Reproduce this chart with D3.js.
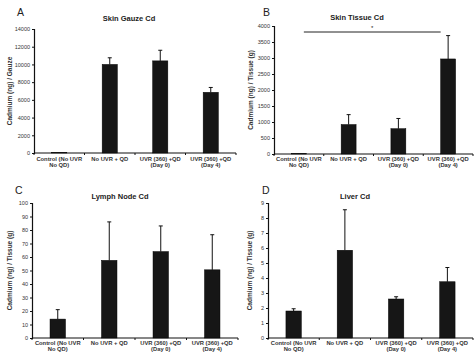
<!DOCTYPE html>
<html>
<head>
<meta charset="utf-8">
<script src="https://cdn.jsdelivr.net/npm/d3@7"></script>
<style>
  body { margin: 0; background: #fff; }
  svg { display: block; font-family: "Liberation Sans", Arial, sans-serif; }
  .tick text { fill: #333; }
</style>
</head>
<body>
<script>
const width = 474,
  height = 354;

// groups on the x axis (two lines each)
const groups = [
  ["Control (No UVR", "No QD)"],
  ["No UVR + QD", ""],
  ["UVR (360) +QD", "(Day 0)"],
  ["UVR (360) +QD", "(Day 4)"]
];

// A - skin gauze
const gaugeMean = [60, 10000, 10400, 6850];
const gaugeErr = [0, 750, 1200, 550];
const gaugeTicks = [0, 2000, 4000, 6000, 8000, 10000, 12000, 14000];

// B - skin tissue
const tissueMean = [15, 920, 790, 2970];
const tissueErr = [0, 310, 320, 730];
const tissueTicks = [0, 500, 1000, 1500, 2000, 2500, 3000, 3500, 4000];

// C - lymph node
const lymphMean = [14, 57.5, 64, 50.5];
const lymphErr = [7, 28.5, 19, 26];
const lymphTicks = [0, 10, 20, 30, 40, 50, 60, 70, 80, 90, 100];

// D - liver
const liverMean = [1.8, 5.85, 2.6, 3.75];
const liverErr = [0.15, 2.7, 0.15, 0.95];
const liverTicks = [0, 1, 2, 3, 4, 5, 6, 7, 8, 9];

const panels = [
  { letter: "A", title: "Skin Gauze Cd", ylab: "Cadmium (ng) / Gauze",
    mean: gaugeMean, err: gaugeErr, ticks: gaugeTicks,
    left: 34, right: 236, top: 29, bottom: 153, letterX: 17, letterY: 16,
    titleX: 129, titleY: 21, ylabX: 10, xlabY: 161 },
  { letter: "B", title: "Skin Tissue Cd", ylab: "Cadmium (ng) / Tissue (g)",
    mean: tissueMean, err: tissueErr, ticks: tissueTicks,
    left: 274, right: 473, top: 26, bottom: 154, letterX: 263, letterY: 16,
    titleX: 357, titleY: 20, ylabX: 251, xlabY: 161, sig: [0, 3] },
  { letter: "C", title: "Lymph Node Cd", ylab: "Cadmium (ng) / Tissue (g)",
    mean: lymphMean, err: lymphErr, ticks: lymphTicks,
    left: 32, right: 238, top: 203, bottom: 338, letterX: 15, letterY: 194,
    titleX: 120, titleY: 199, ylabX: 10, xlabY: 345 },
  { letter: "D", title: "Liver Cd", ylab: "Cadmium (ng) / Tissue (g)",
    mean: liverMean, err: liverErr, ticks: liverTicks,
    left: 268, right: 473, top: 203, bottom: 338, letterX: 262, letterY: 194,
    titleX: 355, titleY: 199, ylabX: 250, xlabY: 345 }
];

const svg = d3
  .select("body")
  .append("svg")
  .attr("width", width)
  .attr("height", height);

panels.forEach((p) => {
  const g = svg.append("g");

  const x = d3
    .scaleBand()
    .domain(d3.range(groups.length))
    .range([p.left, p.right])
    .padding(0);
  const barW = x.bandwidth() * 0.3;

  const y = d3
    .scaleLinear()
    .domain([0, d3.max(p.ticks)])
    .range([p.bottom, p.top]);

  // y axis
  const yAxis = g
    .append("g")
    .attr("transform", `translate(${p.left},0)`)
    .call(
      d3.axisLeft(y)
        .tickValues(p.ticks)
        .tickFormat(d3.format("d"))
        .tickSize(2)
        .tickPadding(2)
    );
  yAxis.select(".domain").attr("stroke", "#111").attr("stroke-width", 1.2);
  yAxis.selectAll(".tick line").attr("stroke", "#111");
  yAxis.selectAll(".tick text").attr("font-size", 5.5);

  // x axis with ticks at group boundaries
  const bounds = d3.range(groups.length + 1).map((i) =>
    i < groups.length ? x(i) : p.right
  );
  g.append("line")
    .attr("x1", p.left).attr("x2", p.right)
    .attr("y1", p.bottom).attr("y2", p.bottom)
    .attr("stroke", "#111").attr("stroke-width", 1.2);
  g.selectAll(".xt")
    .data(bounds)
    .join("line")
    .attr("x1", (d) => d).attr("x2", (d) => d)
    .attr("y1", p.bottom).attr("y2", p.bottom + 2)
    .attr("stroke", "#111");

  // x labels
  groups.forEach((lines, i) => {
    lines.forEach((t, k) => {
      g.append("text")
        .attr("x", x(i) + x.bandwidth() / 2)
        .attr("y", p.xlabY + k * 6)
        .attr("text-anchor", "middle")
        .attr("font-size", 5.8)
        .attr("font-weight", "bold")
        .attr("fill", "#333")
        .text(t);
    });
  });

  // error bars (upper only)
  g.selectAll(".err")
    .data(p.mean)
    .join("g")
    .each(function (d, i) {
      if (!p.err[i]) return;
      const cx = x(i) + x.bandwidth() / 2;
      const e = d3.select(this);
      e.append("line")
        .attr("x1", cx).attr("x2", cx)
        .attr("y1", y(d)).attr("y2", y(d + p.err[i]))
        .attr("stroke", "#111").attr("stroke-width", 1);
      e.append("line")
        .attr("x1", cx - 2).attr("x2", cx + 2)
        .attr("y1", y(d + p.err[i])).attr("y2", y(d + p.err[i]))
        .attr("stroke", "#111").attr("stroke-width", 1);
    });

  // bars
  g.selectAll(".bar")
    .data(p.mean)
    .join("rect")
    .attr("x", (d, i) => x(i) + (x.bandwidth() - barW) / 2)
    .attr("y", (d) => y(d))
    .attr("width", barW)
    .attr("height", (d) => p.bottom - y(d))
    .attr("fill", "#161616")
    .attr("stroke", "#000")
    .attr("stroke-width", 0.5);

  // significance line
  if (p.sig) {
    const sy = p.top + 6;
    const x1 = x(p.sig[0]) + x.bandwidth() * 0.6;
    const x2 = x(p.sig[1]) + x.bandwidth() * 0.35;
    g.append("line")
      .attr("x1", x1).attr("x2", x2)
      .attr("y1", sy).attr("y2", sy)
      .attr("stroke", "#222").attr("stroke-width", 1);
    g.append("text")
      .attr("x", (x1 + x2) / 2)
      .attr("y", sy - 2)
      .attr("text-anchor", "middle")
      .attr("font-size", 6)
      .attr("fill", "#222")
      .text("*");
  }

  // y label
  g.append("text")
    .attr("transform", `translate(${p.ylabX},${(p.top + p.bottom) / 2}) rotate(-90)`)
    .attr("text-anchor", "middle")
    .attr("dy", "0.35em")
    .attr("font-size", 6.5)
    .attr("font-weight", "bold")
    .attr("fill", "#333")
    .text(p.ylab);

  // title
  g.append("text")
    .attr("x", p.titleX).attr("y", p.titleY)
    .attr("text-anchor", "middle")
    .attr("font-size", 7.5)
    .attr("font-weight", "bold")
    .attr("fill", "#222")
    .text(p.title);

  // panel letter
  g.append("text")
    .attr("x", p.letterX).attr("y", p.letterY)
    .attr("font-size", 10.5)
    .attr("fill", "#222")
    .text(p.letter);
});
</script>
</body>
</html>
